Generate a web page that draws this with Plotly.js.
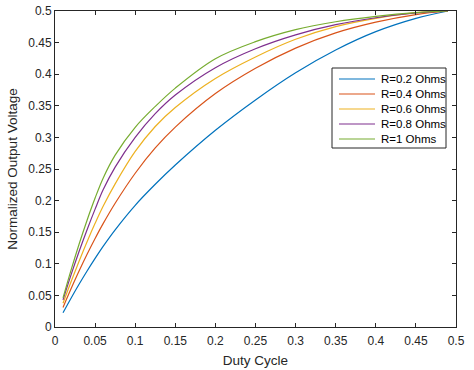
<!DOCTYPE html>
<html>
<head>
<meta charset="utf-8">
<script src="https://cdn.plot.ly/plotly-3.0.1.min.js"></script>
<style>html,body{margin:0;padding:0;background:#fff}#chart{width:474px;height:370px}</style>
</head>
<body>
<div id="chart"></div>
<script>
const dutyCycle = [0.01, 0.02, 0.03, 0.04, 0.05, 0.06, 0.075, 0.1, 0.125, 0.15, 0.2, 0.25, 0.3, 0.35, 0.4, 0.45, 0.49];
const vR02 = [0.0226, 0.0456, 0.0676, 0.0886, 0.1086, 0.1276, 0.1538, 0.1926, 0.2258, 0.2563, 0.3113, 0.3593, 0.4023, 0.4383, 0.4673, 0.4883, 0.5];
const vR04 = [0.031, 0.0605, 0.0885, 0.115, 0.14, 0.1635, 0.1958, 0.2433, 0.2833, 0.3163, 0.3693, 0.4093, 0.4413, 0.4653, 0.4823, 0.4943, 0.5];
const vR06 = [0.0375, 0.0715, 0.104, 0.135, 0.164, 0.191, 0.2265, 0.2778, 0.3173, 0.3473, 0.3933, 0.4273, 0.4553, 0.4753, 0.4883, 0.4973, 0.5];
const vR08 = [0.043, 0.0825, 0.1195, 0.154, 0.1865, 0.217, 0.253, 0.300, 0.3375, 0.367, 0.4103, 0.4403, 0.4623, 0.4783, 0.4893, 0.4968, 0.5];
const vR10 = [0.046, 0.09, 0.131, 0.169, 0.204, 0.2355, 0.272, 0.316, 0.349, 0.378, 0.4245, 0.4515, 0.4705, 0.483, 0.4915, 0.4975, 0.5];
const seriesNames = ['R=0.2 Ohms', 'R=0.4 Ohms', 'R=0.6 Ohms', 'R=0.8 Ohms', 'R=1 Ohms'];
const tickValues = [0, 0.05, 0.1, 0.15, 0.2, 0.25, 0.3, 0.35, 0.4, 0.45, 0.5];
const tickLabels = ['0', '0.05', '0.1', '0.15', '0.2', '0.25', '0.3', '0.35', '0.4', '0.45', '0.5'];

const seriesValues = [vR02, vR04, vR06, vR08, vR10];
const colors = ['#0072BD', '#D95319', '#EDB120', '#7E2F8E', '#77AC30'];
const traces = seriesValues.map((v, i) => ({
  x: dutyCycle, y: v, type: 'scatter', mode: 'lines', name: seriesNames[i],
  line: {color: colors[i], width: 1.2, shape: 'spline', smoothing: 1.0}
}));

// plot area in pixels
const W = 474, H = 370, L = 55, R = 18, T = 11, B = 43;
const pw = W - L - R, ph = H - T - B;
const px2x = p => (p - L) / pw;
const px2y = p => (H - B - p) / ph;

// custom legend (MATLAB-like compact box)
const legBox = {x0: 332, x1: 446, y0: 68, y1: 148};
const legRow0 = 79, legStep = 15, legLineX0 = 339, legLineX1 = 375, legTextX = 379;
const shapes = [{
  type: 'rect', xref: 'paper', yref: 'paper',
  x0: px2x(legBox.x0), x1: px2x(legBox.x1), y0: px2y(legBox.y1), y1: px2y(legBox.y0),
  fillcolor: '#fff', line: {color: '#262626', width: 1}, layer: 'above'
}];
const annotations = [];
seriesNames.forEach((n, i) => {
  const yy = px2y(legRow0 + i * legStep);
  shapes.push({type: 'line', xref: 'paper', yref: 'paper',
    x0: px2x(legLineX0), x1: px2x(legLineX1), y0: yy, y1: yy,
    line: {color: colors[i], width: 1.2}, layer: 'above'});
  annotations.push({xref: 'paper', yref: 'paper', x: px2x(legTextX), y: yy,
    xanchor: 'left', yanchor: 'middle', showarrow: false, text: n,
    font: {family: 'Liberation Sans, Arial, sans-serif', size: 11.5, color: '#000'}});
});

const axisCommon = {
  range: [0, 0.5], tickvals: tickValues, ticktext: tickLabels,
  ticks: 'inside', ticklen: 4, tickwidth: 1, tickcolor: '#262626',
  showline: true, linecolor: '#262626', linewidth: 1, mirror: 'ticks',
  showgrid: false, zeroline: false,
  tickfont: {family: 'Liberation Sans, Arial, sans-serif', size: 12, color: '#262626'}
};

const layout = {
  width: W, height: H,
  margin: {l: L, r: R, t: T, b: B},
  paper_bgcolor: '#fff', plot_bgcolor: '#fff',
  font: {family: 'Liberation Sans, Arial, sans-serif', color: '#262626'},
  xaxis: Object.assign({}, axisCommon, {
    ticklabelstandoff: 3,
    title: {text: 'Duty Cycle', font: {size: 13.5, color: '#262626'}, standoff: 8}
  }),
  yaxis: Object.assign({}, axisCommon, {
    title: {text: 'Normalized Output Voltage', font: {size: 13.5, color: '#262626'}, standoff: 7}
  }),
  shapes: shapes,
  annotations: annotations,
  showlegend: false
};

Plotly.newPlot('chart', traces, layout, {displayModeBar: false, staticPlot: true});
</script>
</body>
</html>
